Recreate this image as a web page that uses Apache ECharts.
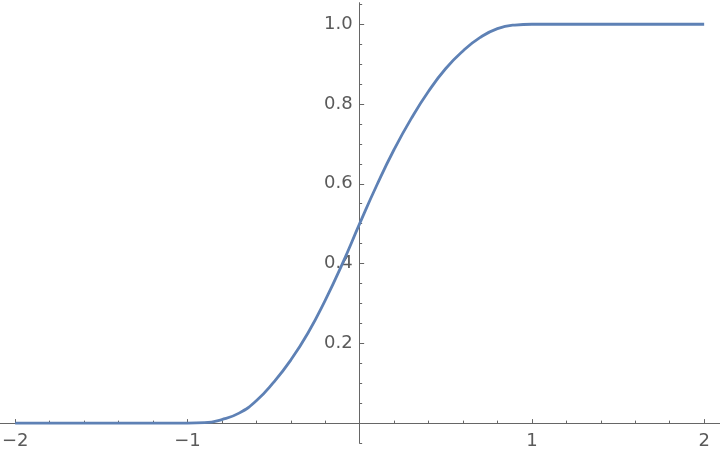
<!DOCTYPE html>
<html>
<head>
<meta charset="utf-8">
<script src="https://cdn.jsdelivr.net/npm/echarts@6/dist/echarts.min.js"></script>
<style>
html,body{margin:0;padding:0;background:#fff;}
#c{width:720px;height:454px;}
</style>
</head>
<body>
<div id="c"></div>
<script>
// Data
const xValues = [-2, -1, -0.9, -0.8, -0.7, -0.6, -0.5, -0.4, -0.3, -0.2, -0.1, 0, 0.1, 0.2, 0.3, 0.4, 0.5, 0.6, 0.7, 0.8, 0.9, 1, 2];
const yValues = [0, 0, 0.001, 0.009, 0.025, 0.056, 0.102, 0.158, 0.226, 0.308, 0.4, 0.5, 0.597, 0.686, 0.764, 0.832, 0.889, 0.933, 0.967, 0.989, 0.998, 1, 1];
const xMajorTicks = [-2, -1, 1, 2];
const xMinorTicks = [-1.8, -1.6, -1.4, -1.2, -0.8, -0.6, -0.4, -0.2, 0.2, 0.4, 0.6, 0.8, 1.2, 1.4, 1.6, 1.8];
const yMajorTicks = [0.2, 0.4, 0.6, 0.8, 1.0];
const yMinorTicks = [-0.05, 0.05, 0.1, 0.15, 0.25, 0.3, 0.35, 0.45, 0.5, 0.55, 0.65, 0.7, 0.75, 0.85, 0.9, 0.95, 1.05];

const points = xValues.map((x, i) => [x, yValues[i]]);

// Layout
const W = 720, H = 454;
const G = { left: 0, right: 0, top: 2.7, bottom: 10.7 };
const X_MIN = -2.088, X_MAX = 2.092, Y_MIN = -0.0506, Y_MAX = 1.054;
const gw = W - G.left - G.right, gh = H - G.top - G.bottom;
// move the axes (as in the reference) to cross at the origin
const xAxisOffset = -(gh * (0 - Y_MIN) / (Y_MAX - Y_MIN));
const yAxisOffset = -(gw * (0 - X_MIN) / (X_MAX - X_MIN));

const axisColor = '#666666';
const labelStyle = { color: '#5a5a5a', fontFamily: 'DejaVu Sans', fontSize: 18 };

function xAxisDef(ticks, len, showLine, showLabel) {
  return {
    type: 'value', min: X_MIN, max: X_MAX, position: 'bottom', offset: xAxisOffset,
    splitLine: { show: false },
    axisLine: { show: showLine, onZero: false, lineStyle: { color: axisColor, width: 1 } },
    axisTick: { show: true, inside: true, length: len, customValues: ticks, lineStyle: { color: axisColor } },
    axisLabel: { show: showLabel, margin: 9, customValues: ticks,
      formatter: v => (v < 0 ? '\u2212' + Math.abs(v) : String(v)), ...labelStyle }
  };
}
function yAxisDef(ticks, len, showLine, showLabel) {
  return {
    type: 'value', min: Y_MIN, max: Y_MAX, position: 'left', offset: yAxisOffset,
    splitLine: { show: false },
    axisLine: { show: showLine, onZero: false, lineStyle: { color: axisColor, width: 1 } },
    axisTick: { show: true, inside: true, length: len, customValues: ticks, lineStyle: { color: axisColor } },
    axisLabel: { show: showLabel, margin: 7, customValues: ticks,
      formatter: v => v.toFixed(1), ...labelStyle }
  };
}

const chart = echarts.init(document.getElementById('c'), null, { renderer: 'canvas' });
chart.setOption({
  animation: false,
  grid: { left: G.left, right: G.right, top: G.top, bottom: G.bottom, containLabel: false, outerBoundsMode: 'none' },
  xAxis: [ xAxisDef(xMajorTicks, 4, true, true), xAxisDef(xMinorTicks, 2.5, false, false) ],
  yAxis: [ yAxisDef(yMajorTicks, 4.5, true, true), yAxisDef(yMinorTicks, 2.5, false, false) ],
  series: [{
    type: 'line',
    xAxisIndex: 0, yAxisIndex: 0,
    data: points,
    smooth: 0.5,
    showSymbol: false,
    lineStyle: { color: '#5E81B5', width: 2.8 },
    z: 5
  }]
});
</script>
</body>
</html>
